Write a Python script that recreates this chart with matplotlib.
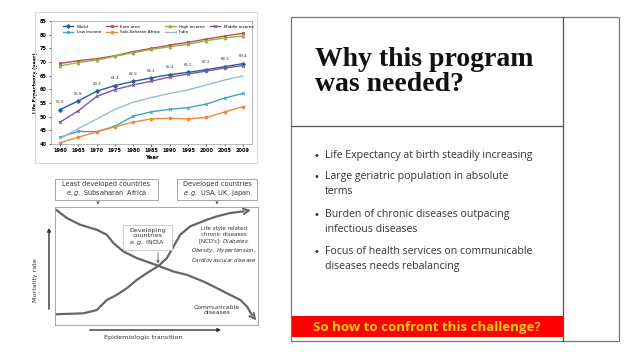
import numpy as np
import matplotlib.pyplot as plt
from matplotlib.patches import Rectangle

W, H = 638, 359

# ---- top chart data (life expectancy) ----
years = ['1960', '1965', '1970', '1975', '1980', '1985', '1990', '1995', '2000', '2005', '2009']
world = [52.6, 55.8, 59.3, 61.4, 62.9, 64.2, 65.4, 66.2, 67.2, 68.3, 69.4]
euro = [69.5, 70.5, 71.2, 72.3, 73.8, 75.0, 76.2, 77.2, 78.4, 79.5, 80.5]
high = [68.6, 69.8, 70.7, 72.1, 73.4, 74.6, 75.6, 76.5, 77.8, 78.8, 79.5]
middle = [48.0, 52.2, 57.4, 59.9, 61.6, 63.0, 64.5, 65.6, 66.7, 67.8, 68.7]
low = [42.5, 44.6, 44.5, 46.5, 50.2, 51.8, 52.7, 53.3, 54.6, 56.8, 58.5]
ssa = [40.5, 42.5, 44.4, 46.3, 48.0, 49.2, 49.4, 49.2, 49.7, 51.7, 53.7]
india = [42.0, 45.7, 49.1, 52.7, 55.3, 57.0, 58.5, 59.8, 61.6, 63.4, 64.9]

# ---- bottom diagram (schematic curves, 0-100 scale) ----
comm_x = [0.5, 5.8, 12.3, 20.6, 25.5, 28.8, 33.7, 40.3, 51.0, 58.4, 65.0, 73.2, 79.8, 86.3, 91.3, 94.6, 97.0, 100]
comm_y = [97.7, 90.7, 85.0, 80.7, 76.5, 69.4, 62.3, 56.7, 50.1, 45.3, 42.5, 36.8, 31.2, 25.5, 21.2, 15.6, 8.5, 2.0]
ncd_x = [0.5, 14.0, 20.6, 25.5, 30.4, 35.4, 40.3, 45.2, 51.0, 55.1, 58.4, 61.7, 66.6, 74.8, 79.8, 86.3, 92.9, 97.9]
ncd_y = [9.1, 9.9, 12.7, 21.2, 25.5, 31.2, 38.2, 43.9, 50.1, 56.7, 66.6, 76.5, 83.6, 89.2, 92.1, 94.9, 96.3, 97.7]

bullets = ["Life Expectancy at birth steadily increasing",
           "Large geriatric population in absolute\nterms",
           "Burden of chronic diseases outpacing\ninfectious diseases",
           "Focus of health services on communicable\ndiseases needs rebalancing"]


def box(l, t, r, b):
    return fig.add_axes([l / W, 1 - b / H, (r - l) / W, (b - t) / H])


fig = plt.figure(figsize=(W / 100, H / 100), dpi=100)

# ============ top chart ============
ax = box(51, 21, 252, 144)
x = np.arange(len(years))
series = [
    ('World', world, '#2E5C9E', 'D'),
    ('Euro area', euro, '#C0504D', 's'),
    ('High income', high, '#8DB347', '^'),
    ('Middle income', middle, '#7E5A9B', 'x'),
    ('Low income', low, '#3FA6BF', 'x'),
    ('Sub-Saharan Africa', ssa, '#F08A3A', 'o'),
    ('India', india, '#9DB8DC', None),
]
lines = {}
for name, vals, c, m in series:
    lines[name], = ax.plot(x, vals, color=c, lw=1.0, marker=m, ms=2, mew=0.7, label=name)
for i, v in enumerate(world):
    ax.text(x[i], v + 2.3, f'{v:.1f}', fontsize=2.8, ha='center', color='#333333')
ax.set_xlim(-0.5, len(years) - 0.5)
ax.set_ylim(40, 85)
ax.set_yticks(range(40, 86, 5))
ax.set_xticks(x)
ax.set_xticklabels(years)
ax.tick_params(labelsize=3.6, length=1.5, width=0.4, pad=1.5)
for lab in ax.get_xticklabels() + ax.get_yticklabels():
    lab.set_fontweight('bold')
ax.set_xlabel('Year', fontsize=4, fontweight='bold', labelpad=1)
ax.set_ylabel('Life Expectancy (year)', fontsize=3.4, fontweight='bold', labelpad=1)
for s in ax.spines.values():
    s.set_linewidth(0.4); s.set_color('#888888')
# legend fills column by column -> reorder so rows read like the original
order = ['World', 'Low income', 'Euro area', 'Sub-Saharan Africa', 'High income', 'India', 'Middle income']
ax.legend([lines[n] for n in order], order, ncol=4, fontsize=3, frameon=False,
          loc='upper left', bbox_to_anchor=(0.04, 1.0), handlelength=2.5,
          columnspacing=1.3, labelspacing=0.4, borderaxespad=0.5)

# ============ bottom diagram ============
gray = '#666666'
dx = box(55, 207, 258, 325)
dx.patch.set_alpha(0)
dx.set_xlim(0, 100); dx.set_ylim(0, 100)
dx.set_xticks([]); dx.set_yticks([])
for s in dx.spines.values():
    s.set_linewidth(0.6); s.set_color('#999999')
dx.plot(comm_x[:-1], comm_y[:-1], color=gray, lw=1.6, solid_capstyle='round')
dx.annotate('', xy=(comm_x[-1], comm_y[-1]), xytext=(comm_x[-2], comm_y[-2]),
            arrowprops=dict(arrowstyle='->', color=gray, lw=1.4))
dx.plot(ncd_x[:-1], ncd_y[:-1], color=gray, lw=1.6, solid_capstyle='round')
dx.annotate('', xy=(ncd_x[-1], ncd_y[-1]), xytext=(ncd_x[-2], ncd_y[-2]),
            arrowprops=dict(arrowstyle='->', color=gray, lw=1.4))

# overlay canvas in pixel coordinates (on top of the chart axes)
bg = fig.add_axes([0, 0, 1, 1])
bg.patch.set_alpha(0)
bg.set_xlim(0, W); bg.set_ylim(H, 0); bg.axis('off')

bg.add_patch(Rectangle((35, 12), 222, 151, fill=False, ec='#d8d8d8', lw=0.8))

for (l, t, r, b, txt, ax_x) in [(55, 179, 158, 200, "Least developed countries\n$\\it{e.g.}$ Subsaharan  Africa", 98),
                                 (177, 179, 257, 200, "Developed countries\n$\\it{e.g.}$ USA, UK, Japan", 217)]:
    bg.add_patch(Rectangle((l, t), r - l, b - t, fill=False, ec='#999999', lw=0.6))
    bg.text((l + r) / 2, (t + b) / 2, txt, fontsize=4.8, ha='center', va='center',
            color='#333333', linespacing=1.1)
    bg.annotate('', xy=(ax_x, 207), xytext=(ax_x, 200),
                arrowprops=dict(arrowstyle='->', color='#333333', lw=0.5, mutation_scale=4))
bg.add_patch(Rectangle((123, 225), 49, 25, fill=True, fc='white', ec='#bbbbbb', lw=0.5))
bg.text(147.5, 237.5, "Developing\ncountries\n$\\it{e.g.}$ INDIA", fontsize=4.6, ha='center',
        va='center', color='#333333', linespacing=1.05)
bg.annotate('', xy=(158, 266), xytext=(158, 250),
            arrowprops=dict(arrowstyle='->', color='#333333', lw=0.5, mutation_scale=4))
bg.text(224, 245, "Life style related\nchronic diseases\n[NCD's]: $\\it{Diabetes,}$\n"
        "$\\it{Obesity,\\ Hypertension,}$\n$\\it{Cardiovascular\\ disease}$",
        fontsize=4.0, ha='center', va='center', color='#333333', linespacing=1.1)
bg.text(217, 310, "Communicable\ndiseases", fontsize=4.4, ha='center', va='center',
        color='#333333', linespacing=1.1)
bg.annotate('', xy=(49, 225), xytext=(49, 312),
            arrowprops=dict(arrowstyle='-|>', color='#333333', lw=1.0, mutation_scale=5))
bg.text(36, 280, "Mortality rate", fontsize=4.6, rotation=90, ha='center', va='center', color='#333333')
bg.annotate('', xy=(224, 330), xytext=(87, 330),
            arrowprops=dict(arrowstyle='-|>', color='#333333', lw=1.0, mutation_scale=5))
bg.text(143, 338, "Epidemiologic transition", fontsize=4.6, ha='center', va='center', color='#333333')

# ============ right text panel ============
bg.add_patch(Rectangle((291, 17), 328, 324, fill=False, ec='#777777', lw=0.9))
bg.plot([563, 563], [17, 341], color='#555555', lw=0.9)
bg.plot([291, 563], [126, 126], color='#555555', lw=0.9)
bg.text(315, 72, "Why this program\nwas needed?", fontsize=20, fontweight='heavy',
        family='Liberation Serif', ha='left', va='center', linespacing=0.95, color='#111111')
bullet_y = [156, 177, 215, 252]
for yy, b in zip(bullet_y, bullets):
    bg.text(316, yy, '\u2022', fontsize=7, ha='center', va='center', color='#333333')
    bg.text(325, yy - 6, b, fontsize=7.6, family='Open Sans', ha='left', va='top',
            color='#333333', linespacing=1.55)
bg.add_patch(Rectangle((292, 316), 271, 21, fc='#FF0000', ec='none'))
bg.text(427, 327, "So how to confront this challenge?", fontsize=9.5, fontweight='bold',
        family='Open Sans', ha='center', va='center', color='#F5D000')

plt.savefig('out.png', dpi=100)
